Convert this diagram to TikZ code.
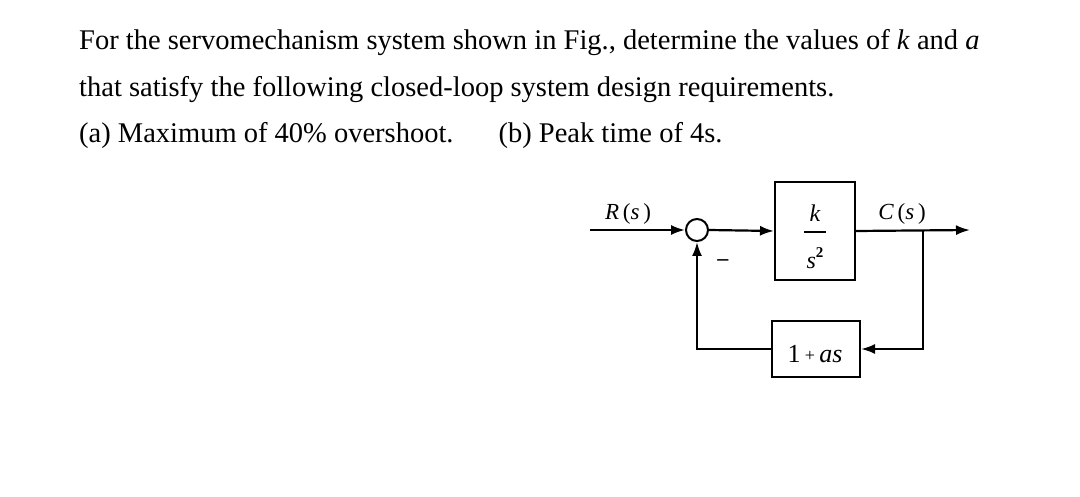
\documentclass[tikz,border=0pt]{standalone}
\usepackage{fontspec}
\setmainfont{Liberation Serif}
\usetikzlibrary{arrows.meta}
\begin{document}
\begin{tikzpicture}[x=1pt,y=-1pt,
  wire/.style={line width=2.2pt,-{Latex[length=14pt,width=10pt]}},
  blk/.style={draw,line width=2pt,inner sep=0pt},
  txt/.style={anchor=base west,inner sep=0pt,font=\fontsize{28.5}{33}\selectfont}]
\useasboundingbox (0,0) rectangle (1080,497);
\node[txt] (t1) at (79,50) {For the servomechanism system shown in Fig., determine the values of \textit{k} and \textit{a}};
\node[txt] (t2) at (79,97) {that satisfy the following closed-loop system design requirements.};
\node[txt] (t3) at (79,143) {(a) Maximum of 40\% overshoot.\hspace{45pt}(b) Peak time of 4s.};
\node[draw,circle,line width=2pt,minimum size=22pt,inner sep=0pt] (sum) at (697,230) {};
\node[blk,minimum width=80pt,minimum height=98pt] (G) at (815,231) {};
\node (k) at (815,213) {\fontsize{24}{24}\selectfont\textit{k}};
\draw[line width=1.8pt] (804,232) -- (826,232);
\node (s2) at (815,258) {\fontsize{24}{24}\selectfont\textit{s}\raisebox{11pt}{\fontsize{15}{15}\selectfont\textbf{2}}};
\node[blk,minimum width=88pt,minimum height=56pt] (H) at (816,349) {};
\node at (815,354) {\fontsize{26}{26}\selectfont 1\,\raisebox{1pt}{\fontsize{18}{18}\selectfont +}\,\textit{as}};
\coordinate (in) at (590,230);
\coordinate (out) at (970,230);
\coordinate (br) at (923,230);
\draw[wire] (in) -- (sum.west);
\draw[wire] (sum.east) -- (G.west);
\draw[wire] (G.east) -- (out);
\draw[wire] (br) |- (H.east);
\draw[wire] (H.west) -| (sum.south);
\node at (628,214) {\fontsize{23}{23}\selectfont\textit{R}\,(\textit{s}\,)};
\node at (902,214) {\fontsize{23}{23}\selectfont\textit{C}\,(\textit{s}\,)};
\node at (723,263) {\fontsize{22}{22}\selectfont\textbf{--}};
\end{tikzpicture}
\end{document}
